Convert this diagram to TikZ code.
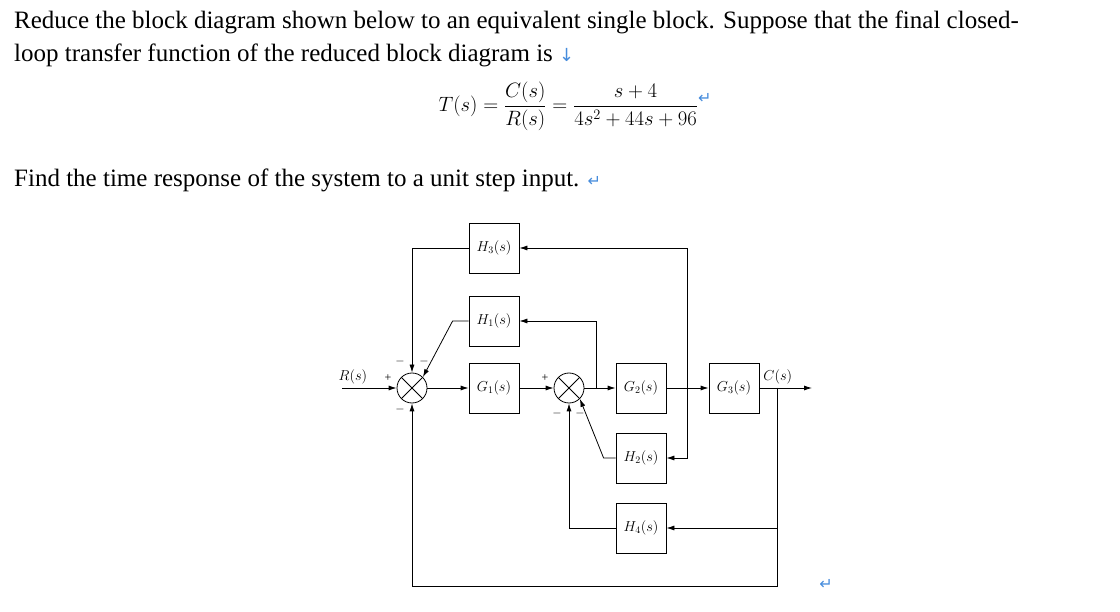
\documentclass[tikz,border=0pt]{standalone}
\usepackage{fontspec}
\setmainfont{Liberation Serif}
\newfontfamily\markfont{DejaVu Sans}
\usetikzlibrary{arrows.meta}
\definecolor{markblue}{RGB}{70,140,220}
\newcommand{\ret}{{\markfont\color{markblue}\fontsize{16}{16}\selectfont ↵}}
\tikzset{
  blk/.style={draw,thick,minimum width=50pt,minimum height=50pt,inner sep=0pt,font=\fontsize{14}{14}\selectfont\itshape},
  sumj/.style={draw,circle,thick,minimum size=30pt,inner sep=0pt,path picture={
     \draw[thick] (path picture bounding box.north west)--(path picture bounding box.south east)
                  (path picture bounding box.north east)--(path picture bounding box.south west);}},
  sig/.style={thick,-{Latex[length=8pt,width=5pt]}},
  sgn/.style={font=\fontsize{12}{12}\selectfont}
}
\begin{document}
\begin{tikzpicture}[x=1pt,y=-1pt]
\useasboundingbox (0,0) rectangle (1120,612);
% text part
\node[anchor=west,inner sep=0pt,font=\fontsize{25}{25}\selectfont] (l1) at (14,22) {Reduce the block diagram shown below to an equivalent single block. Suppose that the final closed-};
\node[anchor=west,inner sep=0pt,font=\fontsize{25}{25}\selectfont] (l2) at (14,55) {loop transfer function of the reduced block diagram is {\markfont\color{markblue}\fontsize{18}{18}\selectfont ↓}};
\node[inner sep=0pt,font=\fontsize{22}{22}\selectfont] (tf) at (575,106) {$\displaystyle T(s)=\frac{C(s)}{R(s)}=\frac{s+4}{4s^2+44s+96}$\raisebox{8pt}{\ret}};
\node[anchor=west,inner sep=0pt,font=\fontsize{25}{25}\selectfont] (l3) at (14,180) {Find the time response of the system to a unit step input. \ret};
\node[inner sep=0pt] (rt) at (826,584) {\ret};
% blocks
\node[sumj] (s1) at (412,388) {};
\node[sumj] (s2) at (569,388) {};
\node[blk] (g1) at (494,388) {$G_1(s)$};
\node[blk] (g2) at (641,388) {$G_2(s)$};
\node[blk] (g3) at (734,388) {$G_3(s)$};
\node[blk] (h3) at (494,248) {$H_3(s)$};
\node[blk] (h1) at (494,321) {$H_1(s)$};
\node[blk] (h2) at (641,458) {$H_2(s)$};
\node[blk] (h4) at (641,528) {$H_4(s)$};
\coordinate (in) at (342,388);
\coordinate (out) at (812,388);
\coordinate (b1) at (596,388);
\coordinate (b2) at (687,388);
\coordinate (b3) at (777,388);
% forward path
\draw[sig] (in) -- node[above,pos=0.2,font=\fontsize{14}{14}\selectfont\itshape]{$R(s)$} (s1);
\draw[sig] (s1) -- (g1);
\draw[sig] (g1) -- (s2);
\draw[sig] (s2) -- (g2);
\draw[sig] (g2) -- (g3);
\draw[sig] (g3) -- node[above,pos=0.35,font=\fontsize{14}{14}\selectfont\itshape]{$C(s)$} (out);
% feedback paths
\draw[sig] (b2) |- (h3);
\draw[sig] (h3) -| (s1);
\draw[sig] (b1) |- (h1);
\draw[sig] (h1.west) -- ++(-16,0) -- (s1.north east);
\draw[sig] (b2) |- (h2);
\draw[sig] (h2.west) -- ++(-12,0) -- (s2.south east);
\draw[sig] (b3) |- (h4);
\draw[sig] (h4) -| (s2);
\draw[sig] (b3) |- (412,586) -- (s1);
% signs
\node[sgn] at (388,378) {+};
\node[sgn] at (400,362) {$-$};
\node[sgn] at (424,362) {$-$};
\node[sgn] at (400,410) {$-$};
\node[sgn] at (545,378) {+};
\node[sgn] at (557,414) {$-$};
\node[sgn] at (580,414) {$-$};
\end{tikzpicture}
\end{document}
